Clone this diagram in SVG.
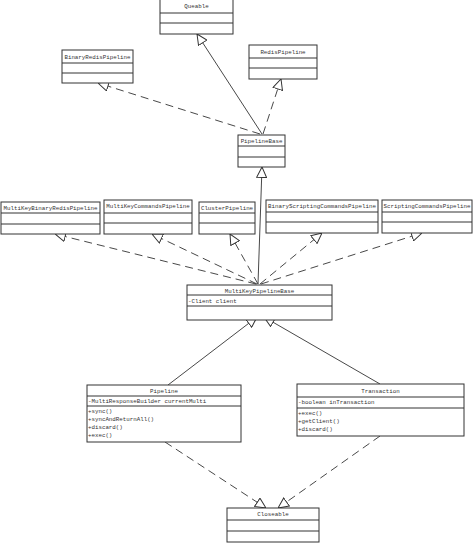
<svg xmlns="http://www.w3.org/2000/svg" width="474" height="545" viewBox="0 0 474 545">
<style>
.box{fill:#fff;stroke:#333;stroke-width:1}
.sep{stroke:#333;stroke-width:1}
text{font-family:"Liberation Mono",monospace;font-size:5.8px;fill:#333}
.c{text-anchor:middle}
.solid{fill:none;stroke:#333;stroke-width:0.9}
.dash{fill:none;stroke:#333;stroke-width:0.9;stroke-dasharray:8,5}
</style>
<defs>
<marker id="tri" viewBox="0 0 10 10" refX="10" refY="5" markerWidth="11" markerHeight="11" markerUnits="userSpaceOnUse" orient="auto">
<path d="M0.5,0.5 L10,5 L0.5,9.5 Z" fill="#fff" stroke="#333" stroke-width="0.9"/>
</marker>
</defs>
<rect width="474" height="545" fill="#fff"/>
<g id="connectors">
<line class="solid" x1="262" y1="134" x2="197" y2="34" marker-end="url(#tri)"/>
<line class="dash" x1="263" y1="134" x2="281" y2="79" marker-end="url(#tri)"/>
<line class="dash" x1="260" y1="134" x2="98" y2="83" marker-end="url(#tri)"/>
<line class="solid" x1="258" y1="284" x2="262" y2="167" marker-end="url(#tri)"/>
<line class="dash" x1="256" y1="284" x2="55" y2="234" marker-end="url(#tri)"/>
<line class="dash" x1="257" y1="284" x2="152" y2="234" marker-end="url(#tri)"/>
<line class="dash" x1="258" y1="284" x2="230" y2="234" marker-end="url(#tri)"/>
<line class="dash" x1="260" y1="284" x2="322" y2="233" marker-end="url(#tri)"/>
<line class="dash" x1="261" y1="284" x2="422" y2="233" marker-end="url(#tri)"/>
<line class="solid" x1="168" y1="385" x2="257" y2="317" marker-end="url(#tri)"/>
<line class="solid" x1="380" y1="384" x2="264" y2="317" marker-end="url(#tri)"/>
<line class="dash" x1="165" y1="442" x2="266" y2="508" marker-end="url(#tri)"/>
<line class="dash" x1="380" y1="436" x2="278" y2="508" marker-end="url(#tri)"/>
</g>
<g id="Queable">
<rect class="box" x="160" y="-5" width="73" height="39"/>
<line class="sep" x1="160" y1="13" x2="233" y2="13"/>
<line class="sep" x1="160" y1="23" x2="233" y2="23"/>
<text class="c" x="196.5" y="8">Queable</text>
</g>
<g id="BinaryRedisPipeline">
<rect class="box" x="62" y="50" width="71" height="33"/>
<line class="sep" x1="62" y1="63" x2="133" y2="63"/>
<line class="sep" x1="62" y1="73" x2="133" y2="73"/>
<text class="c" x="97.5" y="58.5">BinaryRedisPipeline</text>
</g>
<g id="RedisPipeline">
<rect class="box" x="249" y="45" width="68" height="34"/>
<line class="sep" x1="249" y1="58" x2="317" y2="58"/>
<line class="sep" x1="249" y1="68" x2="317" y2="68"/>
<text class="c" x="283" y="53.5">RedisPipeline</text>
</g>
<g id="PipelineBase">
<rect class="box" x="238" y="135" width="47" height="32"/>
<line class="sep" x1="238" y1="146" x2="285" y2="146"/>
<line class="sep" x1="238" y1="157" x2="285" y2="157"/>
<text class="c" x="261.5" y="142.5">PipelineBase</text>
</g>
<g id="MultiKeyBinaryRedisPipeline">
<rect class="box" x="1" y="202" width="99" height="32"/>
<line class="sep" x1="1" y1="213" x2="100" y2="213"/>
<line class="sep" x1="1" y1="224" x2="100" y2="224"/>
<text class="c" x="50.5" y="209.5">MultiKeyBinaryRedisPipeline</text>
</g>
<g id="MultiKeyCommandsPipeline">
<rect class="box" x="104" y="200" width="88" height="34"/>
<line class="sep" x1="104" y1="213" x2="192" y2="213"/>
<line class="sep" x1="104" y1="223" x2="192" y2="223"/>
<text class="c" x="148" y="208">MultiKeyCommandsPipeline</text>
</g>
<g id="ClusterPipeline">
<rect class="box" x="199" y="202" width="56" height="32"/>
<line class="sep" x1="199" y1="213" x2="255" y2="213"/>
<line class="sep" x1="199" y1="223" x2="255" y2="223"/>
<text class="c" x="227" y="209.5">ClusterPipeline</text>
</g>
<g id="BinaryScriptingCommandsPipeline">
<rect class="box" x="266" y="200" width="112" height="33"/>
<line class="sep" x1="266" y1="212" x2="378" y2="212"/>
<line class="sep" x1="266" y1="222" x2="378" y2="222"/>
<text class="c" x="322" y="207.5">BinaryScriptingCommandsPipeline</text>
</g>
<g id="ScriptingCommandsPipeline">
<rect class="box" x="382" y="200" width="90" height="33"/>
<line class="sep" x1="382" y1="212" x2="472" y2="212"/>
<line class="sep" x1="382" y1="222" x2="472" y2="222"/>
<text class="c" x="427" y="207.5">ScriptingCommandsPipeline</text>
</g>
<g id="MultiKeyPipelineBase">
<rect class="box" x="187" y="285" width="145" height="35"/>
<line class="sep" x1="187" y1="295" x2="332" y2="295"/>
<line class="sep" x1="187" y1="306" x2="332" y2="306"/>
<text class="c" x="259.5" y="292.5">MultiKeyPipelineBase</text>
<text x="188" y="302.5">-Client client</text>
</g>
<g id="Pipeline">
<rect class="box" x="87" y="385" width="154" height="57"/>
<line class="sep" x1="87" y1="396" x2="241" y2="396"/>
<line class="sep" x1="87" y1="406" x2="241" y2="406"/>
<text class="c" x="164" y="392.5">Pipeline</text>
<text x="88" y="403">-MultiResponseBuilder currentMulti</text>
<text x="88" y="413">+sync()</text>
<text x="88" y="421">+syncAndReturnAll()</text>
<text x="88" y="429">+discard()</text>
<text x="88" y="437">+exec()</text>
</g>
<g id="Transaction">
<rect class="box" x="297" y="384" width="167" height="52"/>
<line class="sep" x1="297" y1="397" x2="464" y2="397"/>
<line class="sep" x1="297" y1="408" x2="464" y2="408"/>
<text class="c" x="380.5" y="392.5">Transaction</text>
<text x="298" y="404">-boolean inTransaction</text>
<text x="298" y="415">+exec()</text>
<text x="298" y="423">+getClient()</text>
<text x="298" y="431">+discard()</text>
</g>
<g id="Closeable">
<rect class="box" x="227" y="508" width="92" height="34"/>
<line class="sep" x1="227" y1="520" x2="319" y2="520"/>
<line class="sep" x1="227" y1="531" x2="319" y2="531"/>
<text class="c" x="273" y="516">Closeable</text>
</g>
</svg>
